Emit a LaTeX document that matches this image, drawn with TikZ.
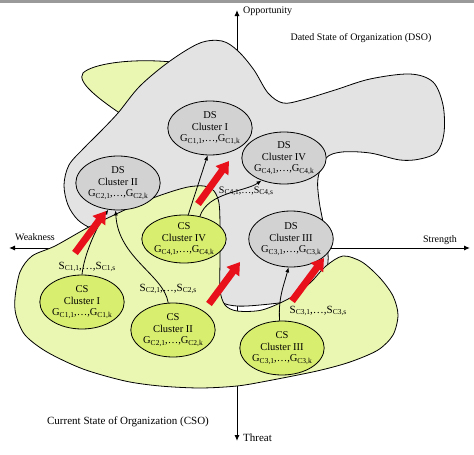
\documentclass[tikz,border=0pt]{standalone}
\usepackage{fontspec}
\setmainfont{Liberation Serif}
\usetikzlibrary{shapes.geometric,arrows.meta}
\definecolor{blobgray}{HTML}{E3E3E3}
\definecolor{dsgray}{HTML}{D2D2D2}
\definecolor{blobgreen}{HTML}{EAF7B2}
\definecolor{csgreen}{HTML}{D8EE6E}
\definecolor{arrred}{HTML}{E8101A}
\definecolor{barcol}{HTML}{9A9A9A}
\newcommand\mysub[1]{\raisebox{-0.3ex}{\fontsize{7.5}{8}\selectfont #1}}
\begin{document}
\begin{tikzpicture}[x=1pt,y=-1pt,
  cluster/.style={ellipse, draw=black, line width=0.8pt, inner sep=0pt, align=center,
    minimum width=74pt, minimum height=54pt, font=\fontsize{10.5}{11.8}\selectfont},
  dsnode/.style={cluster, fill=dsgray},
  csnode/.style={cluster, fill=csgreen},
  link/.style={line width=0.8pt, -{Latex[length=5pt,width=4pt]}},
  axisarrow/.style={line width=1pt, -{Latex[length=6pt,width=5pt]}},
  bigarrow/.style={arrred, line width=7pt, -{Triangle[length=12pt,width=15pt]}},
  slabel/.style={font=\fontsize{11}{13}\selectfont, inner sep=1pt},
  caption/.style={font=\fontsize{10}{12}\selectfont, inner sep=1pt},
  blobline/.style={draw=black, line width=0.8pt}
]
\useasboundingbox (0,0) rectangle (474,455);
\fill[barcol] (0,0) rectangle (474,2.5);

% axes
\coordinate (O) at (237,248);
\coordinate (axtop) at (237,10);
\coordinate (axbot) at (237,441);
\coordinate (axleft) at (9,248);
\coordinate (axright) at (470,248);
\draw[axisarrow] (O) -- (axtop);
\draw[axisarrow] (O) -- (axbot);
\draw[axisarrow] (O) -- (axleft);
\draw[axisarrow] (O) -- (axright);

% green leaf behind gray blob
\filldraw[fill=blobgreen, blobline] (172,62) .. controls (130,58) and (92,64) .. (83,73)
  .. controls (76,82) and (100,100) .. (124,116) -- (150,90) -- cycle;

% gray blob (DSO)
\filldraw[fill=blobgray, blobline] plot[smooth cycle, tension=0.55] coordinates {
  (118,113) (140,86) (170,61) (200,43) (222,41) (238,51) (254,70) (268,93) (283,103)
  (302,100) (335,90) (370,79) (410,74) (433,82) (443,105) (444,133) (437,152)
  (420,159) (400,160) (370,153) (342,152) (326,158) (318,178) (319,200) (323,222)
  (327,245) (328,262) (323,280) (310,292) (290,301) (260,305) (237,306) (222,302)
  (218,288) (217,260) (205,240) (160,234) (112,233) (93,229) (78,220) (68,205)
  (64,185) (69,165) (84,148) (100,132)};

% green blob (CSO)
\filldraw[fill=blobgreen, blobline] plot[smooth cycle, tension=0.5] coordinates {
  (15,298) (20,272) (32,256) (55,246) (87,228) (112,216) (140,203) (167,193)
  (188,187) (204,186) (214,191) (219,203) (220,225) (220,260) (220,290) (225,305)
  (237,311) (262,310) (290,298) (310,283) (326,266) (343,256) (362,262) (380,278)
  (393,296) (398,315) (393,335) (378,350) (350,362) (317,371) (267,381) (237,386)
  (200,388) (160,386) (125,381) (83,369) (47,352) (25,335) (16,315)};

% clusters
\node[dsnode] (ds1) at (210,128) {DS\\Cluster I\\G\mysub{C1,1},…,G\mysub{C1,k}};
\node[dsnode] (ds2) at (118,183) {DS\\Cluster II\\G\mysub{C2,1},…,G\mysub{C2,k}};
\node[dsnode, minimum width=72pt, minimum height=52pt] (ds4) at (284,158) {DS\\Cluster IV\\G\mysub{C4,1},…,G\mysub{C4,k}};
\node[dsnode, minimum height=56pt] (ds3) at (291,239) {DS\\Cluster III\\G\mysub{C3,1},…,G\mysub{C3,k}};
\node[csnode] (cs1) at (82,302) {CS\\Cluster I\\G\mysub{C1,1},…,G\mysub{C1,k}};
\node[csnode, minimum width=70pt, minimum height=48pt] (cs4) at (184,239) {CS\\Cluster IV\\G\mysub{C4,1},…,G\mysub{C4,k}};
\node[csnode] (cs2) at (173,330) {CS\\Cluster II\\G\mysub{C2,1},…,G\mysub{C2,k}};
\node[csnode, minimum width=72pt] (cs3) at (282,348) {CS\\Cluster III\\G\mysub{C3,1},…,G\mysub{C3,k}};

% connectors
\draw[link] (cs1.north) .. controls (84,255) and (96,228) .. (ds2.250);
\draw[link] (cs2.100) .. controls (164,275) and (118,258) .. (ds2.265);
\draw[link] (cs4.80) -- (ds1.265);
\draw[link] (cs4.55) .. controls (208,192) and (245,192) .. (ds4.225);
\draw[link] (cs3.95) .. controls (278,298) and (284,285) .. (ds3.265);

% connector labels
\node[slabel] (l1) at (87,267) {S\mysub{C1,1},…,S\mysub{C1,s}};
\node[slabel] (l2) at (168,289) {S\mysub{C2,1},…,S\mysub{C2,s}};
\node[caption] (l4) at (246,191) {S\mysub{C4,1},…,S\mysub{C4,s}};
\node[slabel] (l3) at (318,311) {S\mysub{C3,1},…,S\mysub{C3,s}};

% red transition arrows
\coordinate (r1a) at (75,253);  \coordinate (r1b) at (106,211);
\coordinate (r2a) at (198,204); \coordinate (r2b) at (229,161);
\coordinate (r3a) at (209,304); \coordinate (r3b) at (240,262);
\coordinate (r4a) at (292,301); \coordinate (r4b) at (324,258);
\draw[bigarrow] (r1a) -- (r1b);
\draw[bigarrow] (r2a) -- (r2b);
\draw[bigarrow] (r3a) -- (r3b);
\draw[bigarrow] (r4a) -- (r4b);

% texts
\node[caption, anchor=west] (opp) at (242,11) {Opportunity};
\node[font=\fontsize{11}{13}\selectfont, anchor=west, inner sep=1pt] (thr) at (242,438) {Threat};
\node[caption] (weak) at (35,237) {Weakness};
\node[caption] (str) at (440,240) {Strength};
\node[caption] (dso) at (361,38) {Dated State of Organization (DSO)};
\node[font=\fontsize{11}{13}\selectfont, inner sep=1pt] (cso) at (128,422) {Current State of Organization (CSO)};
\end{tikzpicture}
\end{document}
